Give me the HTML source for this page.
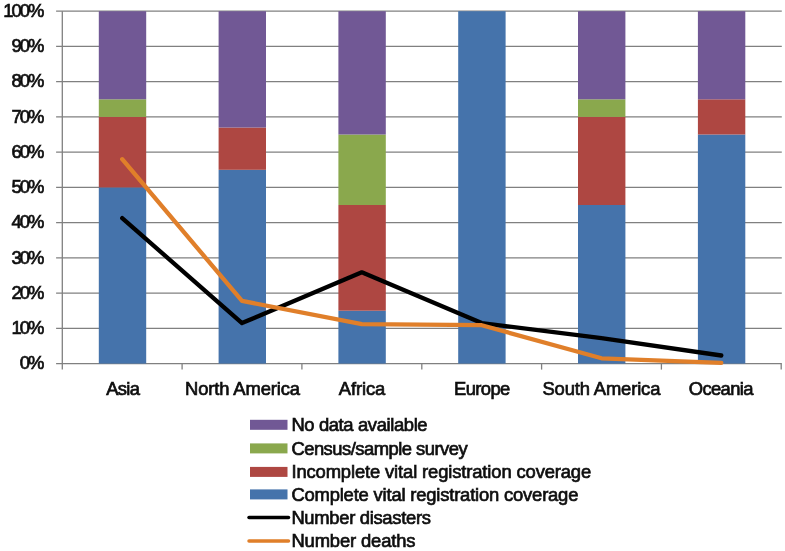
<!DOCTYPE html><html><head><meta charset="utf-8"><title>chart</title>
<style>html,body{margin:0;padding:0;background:#fff}svg{display:block}text{font-family:"Liberation Sans",sans-serif;fill:#111;stroke:#111;stroke-width:0.7px}</style></head><body>
<svg width="785" height="551" viewBox="0 0 785 551">
<rect width="785" height="551" fill="#fff"/>
<defs><filter id="soft" x="0" y="0" width="785" height="551" filterUnits="userSpaceOnUse"><feGaussianBlur stdDeviation="0.45"/></filter></defs>
<g filter="url(#soft)">
<line x1="56.1" x2="781.8" y1="363.6" y2="363.6" stroke="#808080" stroke-width="1.3"/>
<line x1="56.1" x2="781.8" y1="328.4" y2="328.4" stroke="#808080" stroke-width="1.3"/>
<line x1="56.1" x2="781.8" y1="293.1" y2="293.1" stroke="#808080" stroke-width="1.3"/>
<line x1="56.1" x2="781.8" y1="257.9" y2="257.9" stroke="#808080" stroke-width="1.3"/>
<line x1="56.1" x2="781.8" y1="222.6" y2="222.6" stroke="#808080" stroke-width="1.3"/>
<line x1="56.1" x2="781.8" y1="187.4" y2="187.4" stroke="#808080" stroke-width="1.3"/>
<line x1="56.1" x2="781.8" y1="152.2" y2="152.2" stroke="#808080" stroke-width="1.3"/>
<line x1="56.1" x2="781.8" y1="116.9" y2="116.9" stroke="#808080" stroke-width="1.3"/>
<line x1="56.1" x2="781.8" y1="81.7" y2="81.7" stroke="#808080" stroke-width="1.3"/>
<line x1="56.1" x2="781.8" y1="46.4" y2="46.4" stroke="#808080" stroke-width="1.3"/>
<line x1="56.1" x2="781.8" y1="11.2" y2="11.2" stroke="#808080" stroke-width="1.3"/>
<line x1="62.3" x2="62.3" y1="11.2" y2="369.6" stroke="#808080" stroke-width="1.3"/>
<line x1="182.1" x2="182.1" y1="363.6" y2="369.6" stroke="#808080" stroke-width="1.3"/>
<line x1="301.9" x2="301.9" y1="363.6" y2="369.6" stroke="#808080" stroke-width="1.3"/>
<line x1="421.8" x2="421.8" y1="363.6" y2="369.6" stroke="#808080" stroke-width="1.3"/>
<line x1="541.6" x2="541.6" y1="363.6" y2="369.6" stroke="#808080" stroke-width="1.3"/>
<line x1="661.4" x2="661.4" y1="363.6" y2="369.6" stroke="#808080" stroke-width="1.3"/>
<line x1="781.2" x2="781.2" y1="363.6" y2="369.6" stroke="#808080" stroke-width="1.3"/>
<rect x="98.8" y="187.4" width="47.4" height="176.2" fill="#4573ab"/>
<rect x="98.8" y="116.9" width="47.4" height="70.5" fill="#ae4643"/>
<rect x="98.8" y="99.3" width="47.4" height="17.6" fill="#8aa84e"/>
<rect x="98.8" y="11.2" width="47.4" height="88.1" fill="#715895"/>
<rect x="218.6" y="169.8" width="47.4" height="193.8" fill="#4573ab"/>
<rect x="218.6" y="127.5" width="47.4" height="42.3" fill="#ae4643"/>
<rect x="218.6" y="11.2" width="47.4" height="116.3" fill="#715895"/>
<rect x="338.4" y="310.7" width="47.4" height="52.9" fill="#4573ab"/>
<rect x="338.4" y="205.0" width="47.4" height="105.7" fill="#ae4643"/>
<rect x="338.4" y="134.5" width="47.4" height="70.5" fill="#8aa84e"/>
<rect x="338.4" y="11.2" width="47.4" height="123.3" fill="#715895"/>
<rect x="458.2" y="11.2" width="47.4" height="352.4" fill="#4573ab"/>
<rect x="578.0" y="205.0" width="47.4" height="158.6" fill="#4573ab"/>
<rect x="578.0" y="116.9" width="47.4" height="88.1" fill="#ae4643"/>
<rect x="578.0" y="99.3" width="47.4" height="17.6" fill="#8aa84e"/>
<rect x="578.0" y="11.2" width="47.4" height="88.1" fill="#715895"/>
<rect x="697.9" y="134.5" width="47.4" height="229.1" fill="#4573ab"/>
<rect x="697.9" y="99.3" width="47.4" height="35.2" fill="#ae4643"/>
<rect x="697.9" y="11.2" width="47.4" height="88.1" fill="#715895"/>
<polyline points="122.2,218.1 242.0,323.1 361.8,272.3 481.7,323.1 601.5,338.2 721.3,355.5" fill="none" stroke="#000" stroke-width="4.3" stroke-linejoin="round" stroke-linecap="round"/>
<polyline points="122.2,159.2 242.0,300.9 361.8,324.1 481.7,325.2 601.5,358.3 721.3,362.9" fill="none" stroke="#e07f2a" stroke-width="4.3" stroke-linejoin="round" stroke-linecap="round"/>
<text x="42.3" y="369.2" font-size="18.4" text-anchor="end" letter-spacing="-2.0">0%</text>
<text x="42.3" y="334.0" font-size="18.4" text-anchor="end" letter-spacing="-2.0">10%</text>
<text x="42.3" y="298.7" font-size="18.4" text-anchor="end" letter-spacing="-2.0">20%</text>
<text x="42.3" y="263.5" font-size="18.4" text-anchor="end" letter-spacing="-2.0">30%</text>
<text x="42.3" y="228.2" font-size="18.4" text-anchor="end" letter-spacing="-2.0">40%</text>
<text x="42.3" y="193.0" font-size="18.4" text-anchor="end" letter-spacing="-2.0">50%</text>
<text x="42.3" y="157.8" font-size="18.4" text-anchor="end" letter-spacing="-2.0">60%</text>
<text x="42.3" y="122.5" font-size="18.4" text-anchor="end" letter-spacing="-2.0">70%</text>
<text x="42.3" y="87.3" font-size="18.4" text-anchor="end" letter-spacing="-2.0">80%</text>
<text x="42.3" y="52.0" font-size="18.4" text-anchor="end" letter-spacing="-2.0">90%</text>
<text x="42.3" y="16.8" font-size="18.4" text-anchor="end" letter-spacing="-2.0">100%</text>
<text x="106.3" y="395.2" font-size="18.4" textLength="33.6" lengthAdjust="spacing">Asia</text>
<text x="185.0" y="395.2" font-size="18.4" textLength="115.1" lengthAdjust="spacing">North America</text>
<text x="338.7" y="395.2" font-size="18.4" textLength="46.6" lengthAdjust="spacing">Africa</text>
<text x="454.1" y="395.2" font-size="18.4" textLength="56.2" lengthAdjust="spacing">Europe</text>
<text x="542.4" y="395.2" font-size="18.4" textLength="118.0" lengthAdjust="spacing">South America</text>
<text x="688.8" y="395.2" font-size="18.4" textLength="64.6" lengthAdjust="spacing">Oceania</text>
<rect x="250" y="419.8" width="37.5" height="10" fill="#715895"/>
<text x="291.4" y="431.2" font-size="18.4" textLength="136.2" lengthAdjust="spacing">No data available</text>
<rect x="250" y="443.4" width="37.5" height="10" fill="#8aa84e"/>
<text x="291.4" y="454.8" font-size="18.4" textLength="176.3" lengthAdjust="spacing">Census/sample survey</text>
<rect x="250" y="466.9" width="37.5" height="10" fill="#ae4643"/>
<text x="291.4" y="478.3" font-size="18.4" textLength="299.8" lengthAdjust="spacing">Incomplete vital registration coverage</text>
<rect x="250" y="489.4" width="37.5" height="10" fill="#4573ab"/>
<text x="291.4" y="500.8" font-size="18.4" textLength="287.0" lengthAdjust="spacing">Complete vital registration coverage</text>
<line x1="249" x2="288.5" y1="517.4" y2="517.4" stroke="#000" stroke-width="3.5" stroke-linecap="round"/>
<text x="291.4" y="523.8" font-size="18.4" textLength="139.5" lengthAdjust="spacing">Number disasters</text>
<line x1="249" x2="288.5" y1="540.9" y2="540.9" stroke="#e07f2a" stroke-width="3.5" stroke-linecap="round"/>
<text x="291.4" y="547.3" font-size="18.4" textLength="124.1" lengthAdjust="spacing">Number deaths</text>
</g></svg></body></html>
